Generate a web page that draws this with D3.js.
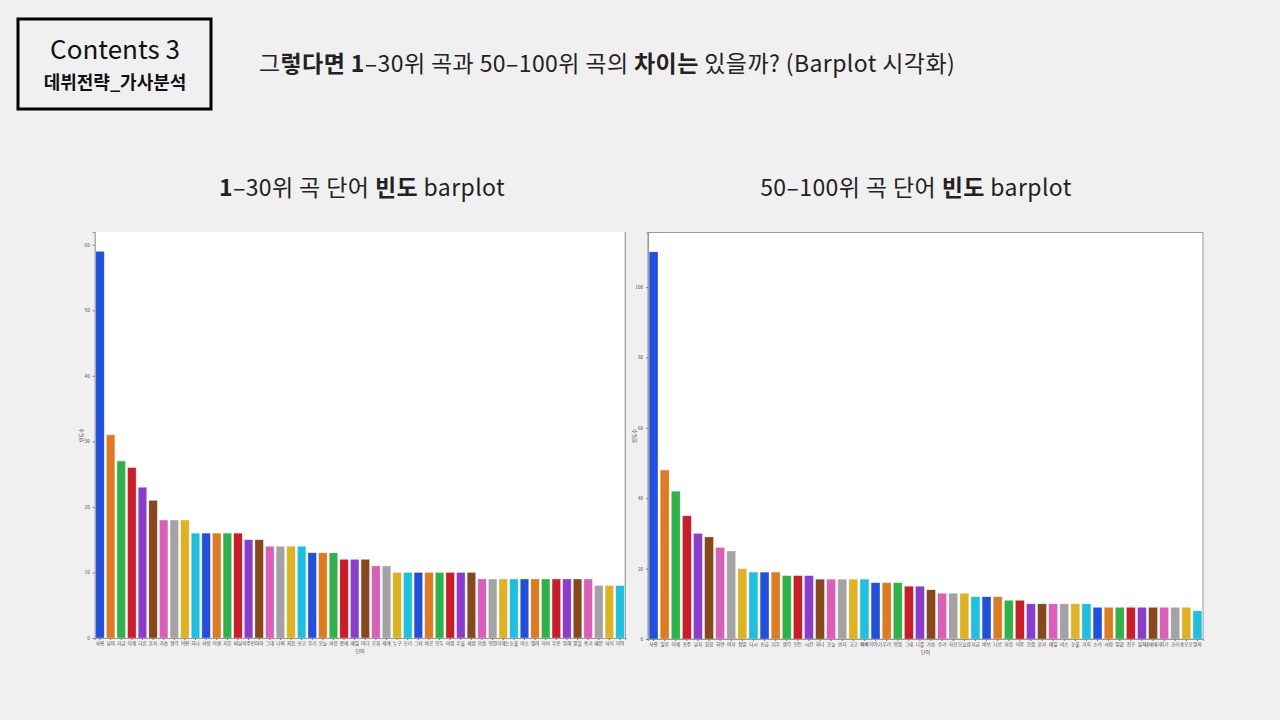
<!DOCTYPE html>
<html>
<head>
<meta charset="utf-8">
<script src="https://cdn.jsdelivr.net/npm/d3@7"></script>
<style>
  html, body { margin: 0; padding: 0; background: #f0f0f0; }
  svg { display: block; font-family: "Noto Sans CJK KR", "Noto Sans", sans-serif; }
</style>
</head>
<body>
<svg id="chart" width="1280" height="720"></svg>
<script>
// top 50 words, songs ranked 1-30
var topWords = ["사랑","날아","지금","이제","다른","혼자","가슴","생각","어떤","하나",
                "사람","이젠","지우","떠날","저주인","아아","그대","나의","처음","보고",
                "우리","오늘","마음","함께","매일","어디","후회","세계","누구","오리",
                "그저","바로","모두","미움","우울","세상","모습","영원","이제는","눈물",
                "미소","떨려","이미","우린","위해","말할","용기","때문","사이","이야"];
var topCounts = [59,31,27,26,23,21,18,18,18,16,
                 16,16,16,16,15,15,14,14,14,14,
                 13,13,13,12,12,12,11,11,10,10,
                 10,10,10,10,10,10,9,9,9,9,
                 9,9,9,9,9,9,9,8,8,8];

// top 50 words, songs ranked 50-100
var lowWords = ["사랑","일루","이제","포주","날자","힘힘","하얀","여자","정말","다시",
                "조금","지우","생각","모든","시간","하나","오늘","만지","고고","빠빠",
                "이야기","우리","영원","그대","나를","가슴","수가","자신","오늘밤","지금",
                "바보","나로","마음","이쭈","모습","혼자","매일","미소","눈물","가치",
                "소리","사람","말끝","친구","일처","대애애기","치기","코리","숭오오","알파"];
var lowCounts = [110,48,42,35,30,29,26,25,20,19,
                 19,19,18,18,18,17,17,17,17,17,
                 16,16,16,15,15,14,13,13,13,12,
                 12,12,11,11,10,10,10,10,10,10,
                 9,9,9,9,9,9,9,9,9,8];

var topTicks = [0,10,20,30,40,50,60];
var lowTicks = [0,20,40,60,80,100];

var palette = ["#2150df","#df7a1f","#2eb34a","#cc1c27","#8a3dcc",
               "#87491a","#db5fb8","#a3a3a3","#dfb21f","#1cc0e0"];

var svg = d3.select("#chart");

// title box
svg.append("rect")
  .attr("x", 18).attr("y", 19).attr("width", 193).attr("height", 90)
  .attr("fill", "none").attr("stroke", "#000").attr("stroke-width", 3);
svg.append("text")
  .attr("x", 115).attr("y", 59).attr("text-anchor", "middle")
  .attr("font-size", 26).attr("font-weight", 400).attr("fill", "#111")
  .text("Contents 3");
svg.append("text")
  .attr("x", 115).attr("y", 89).attr("text-anchor", "middle")
  .attr("font-size", 18).attr("font-weight", 700).attr("fill", "#111")
  .text("데뷔전략_가사분석");

// question line
var q = svg.append("text")
  .attr("x", 259).attr("y", 72)
  .attr("font-size", 23).attr("letter-spacing", 0.4).attr("fill", "#222");
q.append("tspan").text("그");
q.append("tspan").attr("font-weight", 700).text("렇다면 1");
q.append("tspan").text("–30위 곡과 50–100위 곡의 ");
q.append("tspan").attr("font-weight", 700).text("차이는");
q.append("tspan").text(" 있을까? (Barplot 시각화)");

// chart headings
var h1 = svg.append("text")
  .attr("x", 362).attr("y", 196).attr("text-anchor", "middle")
  .attr("font-size", 23).attr("letter-spacing", 0.4).attr("fill", "#222");
h1.append("tspan").attr("font-weight", 700).text("1");
h1.append("tspan").text("–30위 곡 단어 ");
h1.append("tspan").attr("font-weight", 700).text("빈도");
h1.append("tspan").text(" barplot");

var h2 = svg.append("text")
  .attr("x", 916).attr("y", 196).attr("text-anchor", "middle")
  .attr("font-size", 23).attr("letter-spacing", 0.4).attr("fill", "#222");
h2.append("tspan").text("50–100위 곡 단어 ");
h2.append("tspan").attr("font-weight", 700).text("빈도");
h2.append("tspan").text(" barplot");

function barplot(box, words, counts, ticks, frame) {
  var g = svg.append("g");

  var x = d3.scaleBand()
    .domain(d3.range(words.length))
    .range([box.left, box.right])
    .paddingInner(0.2)
    .paddingOuter(0.1);

  var y = d3.scaleLinear()
    .domain([0, d3.max(counts) * 1.05])
    .range([box.bottom, box.top]);

  g.append("rect")
    .attr("x", box.left).attr("y", box.top)
    .attr("width", box.right - box.left).attr("height", box.bottom - box.top)
    .attr("fill", "#fff")
    .attr("stroke", frame ? "#9a9a9a" : "none");

  g.selectAll(".bar")
    .data(counts)
    .join("rect")
    .attr("class", "bar")
    .attr("x", function(d, i) { return x(i); })
    .attr("y", function(d) { return y(d); })
    .attr("width", x.bandwidth())
    .attr("height", function(d) { return box.bottom - y(d); })
    .attr("fill", function(d, i) { return palette[i % palette.length]; })
    .attr("stroke", "#fff")
    .attr("stroke-opacity", 0.5)
    .attr("stroke-width", 0.6);

  var yAxis = g.append("g")
    .attr("transform", "translate(" + box.left + ",0)")
    .call(d3.axisLeft(y).tickValues(ticks).tickSize(2).tickPadding(3));

  var xAxis = g.append("g")
    .attr("transform", "translate(0," + box.bottom + ")")
    .call(d3.axisBottom(x).tickSize(2).tickPadding(2)
      .tickFormat(function(i) { return words[i]; }));

  [xAxis, yAxis].forEach(function(a) {
    a.select(".domain").attr("stroke", "#9a9a9a").attr("stroke-width", 1.2);
    a.selectAll(".tick line").attr("stroke", "#777");
    a.selectAll(".tick text").attr("fill", "#444").attr("font-size", 4.6)
      .attr("font-family", "'Noto Sans CJK KR', sans-serif");
  });

  if (!frame) {
    g.append("line")
      .attr("x1", box.right).attr("x2", box.right)
      .attr("y1", box.top).attr("y2", box.bottom)
      .attr("stroke", "#9a9a9a").attr("stroke-width", 1.2);
  }

  g.append("text")
    .attr("x", (box.left + box.right) / 2).attr("y", box.bottom + 15)
    .attr("text-anchor", "middle").attr("font-size", 5).attr("fill", "#444")
    .text("단어");

  g.append("text")
    .attr("transform", "translate(" + (box.left - 12) + "," + ((box.top + box.bottom) / 2) + ") rotate(-90)")
    .attr("text-anchor", "middle").attr("font-size", 5).attr("fill", "#444")
    .text("빈도수");
}

barplot({left: 94.7, right: 625.3, top: 232, bottom: 638}, topWords, topCounts, topTicks, false);
barplot({left: 648, right: 1203, top: 232.5, bottom: 639}, lowWords, lowCounts, lowTicks, true);
</script>
</body>
</html>
